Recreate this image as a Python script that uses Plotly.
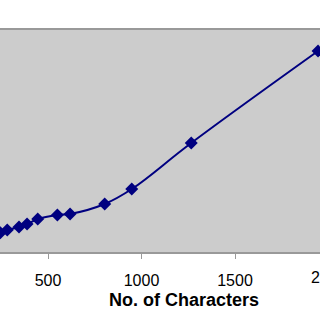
import plotly.graph_objects as go

chars = [245, 282, 345, 388, 445, 550, 618, 803, 948, 1266, 1944]
values = [2.6, 2.97, 3.38, 3.78, 4.46, 5.0, 5.14, 6.49, 8.51, 14.73, 27.16]
x_ticks = [500, 1000, 1500, 2000]
x_range = [243.3, 1954.5]
y_range = [0, 30]

fig = go.Figure()
fig.add_trace(go.Scatter(
    x=chars, y=values, mode="lines+markers",
    line=dict(color="#000080", width=2, shape="spline", smoothing=1.1),
    marker=dict(symbol="diamond", size=10, color="#000080"),
))

fig.update_layout(
    width=320, height=320,
    margin=dict(l=0, r=0, t=30, b=68),
    paper_bgcolor="white", plot_bgcolor="#cccccc",
    showlegend=False,
    font=dict(family="Liberation Sans, Arial", color="black", size=16),
)
fig.update_xaxes(
    range=x_range, tickvals=x_ticks, ticks="outside", ticklen=5,
    tickcolor="#999999", showline=True, linecolor="#999999", linewidth=1.5,
    mirror=True, showgrid=False, zeroline=False, ticklabelstandoff=8,
    tickfont=dict(size=16),
)
fig.update_yaxes(range=y_range, showgrid=False, zeroline=False,
                 showticklabels=False, showline=False)

# Partially visible 2000 label at the right edge (cut off, as in the reference)
fx = (x_ticks[-1] - x_range[0]) / (x_range[1] - x_range[0])
fig.add_annotation(x=fx, xref="paper", y=-0.117, yref="paper",
                   text=str(x_ticks[-1]), showarrow=False,
                   font=dict(size=16), xanchor="center", yanchor="middle")
fig.add_annotation(x=0.575, xref="paper", y=-0.218, yref="paper",
                   text="<b>No. of Characters</b>", showarrow=False,
                   font=dict(size=18), xanchor="center", yanchor="middle")

fig.write_html("out.html")
